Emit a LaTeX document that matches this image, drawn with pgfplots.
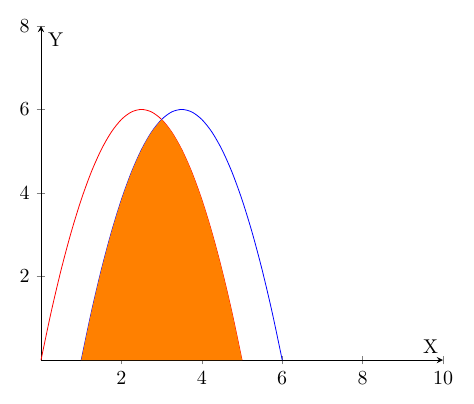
\documentclass[border=0pt]{standalone}
\usepackage{pgfplots}
\pgfplotsset{compat=1.18}
\begin{document}
\begin{tikzpicture}
  \begin{axis}[
      scale only axis,
      width=201.5pt, height=167.5pt,
      axis lines=left,
      xmin=0, xmax=10,
      ymin=0, ymax=8,
      xtick={2,4,...,10},
      ytick={2,4,...,8},
      tick align=center,
      xlabel=X, ylabel=Y,
      every axis x label/.style={at={(axis cs:10,0)}, anchor=south east, xshift=1pt},
      every axis y label/.style={at={(axis cs:0,8)}, anchor=north west},
      clip=false,
    ]
    % red curve
    \addplot[red, smooth] coordinates {
      (0,0) (0.25,1.14) (0.5,2.16) (0.75,3.06) (1,3.84) (1.25,4.5)
      (1.5,5.04) (1.75,5.46) (2,5.76) (2.25,5.94) (2.5,6) (2.75,5.94)
      (3,5.76) (3.25,5.46) (3.5,5.04) (3.75,4.5) (4,3.84) (4.25,3.06)
      (4.5,2.16) (4.75,1.14) (5,0)
    };
    % blue curve
    \addplot[blue, smooth] coordinates {
      (1,0) (1.25,1.14) (1.5,2.16) (1.75,3.06) (2,3.84) (2.25,4.5)
      (2.5,5.04) (2.75,5.46) (3,5.76) (3.25,5.94) (3.5,6) (3.75,5.94)
      (4,5.76) (4.25,5.46) (4.5,5.04) (4.75,4.5) (5,3.84) (5.25,3.06)
      (5.5,2.16) (5.75,1.14) (6,0)
    };
    % fill under both curves, drawn on top
    \addplot[draw=none, fill=orange, smooth] coordinates {
      (1,0) (1.25,1.14) (1.5,2.16) (1.75,3.06) (2,3.84) (2.25,4.5)
      (2.5,5.04) (2.75,5.46) (3,5.76)
    } -- plot[smooth] coordinates {
      (3,5.76) (3.25,5.46) (3.5,5.04) (3.75,4.5)
      (4,3.84) (4.25,3.06) (4.5,2.16) (4.75,1.14) (5,0)
    } -- cycle;
    \path (axis cs:-1.02,-1.05) rectangle (axis cs:10.77,8.62);
  \end{axis}
\end{tikzpicture}
\end{document}
